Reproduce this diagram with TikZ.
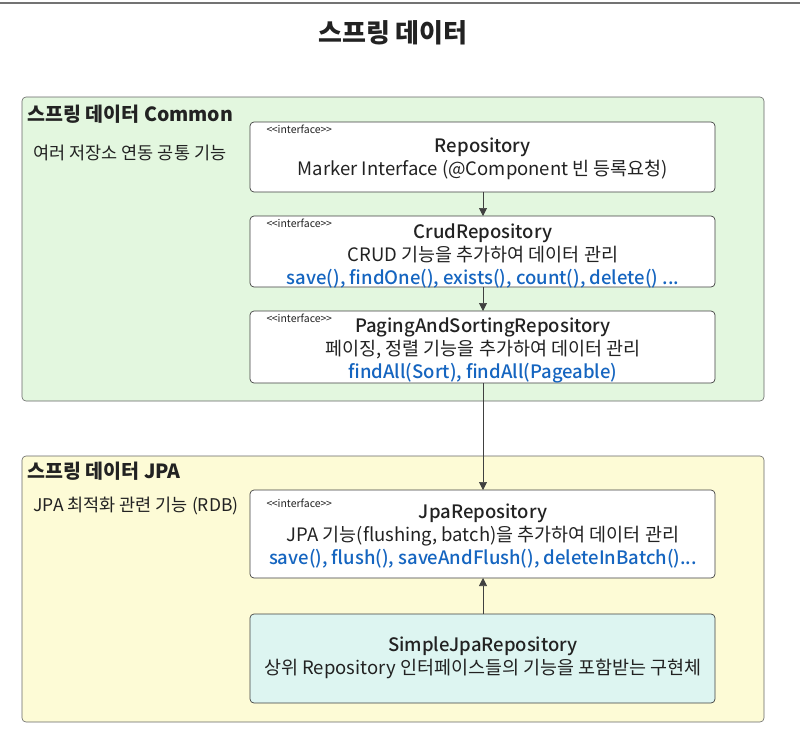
\documentclass[tikz,border=0pt]{standalone}
\usepackage{fontspec}
\setmainfont{Noto Sans CJK KR}
\newfontfamily\medfont{Noto Sans CJK KR Medium}
\usetikzlibrary{arrows.meta}
\definecolor{grpA}{HTML}{E3F7DF}
\definecolor{grpB}{HTML}{FDFBD6}
\definecolor{impl}{HTML}{DDF5F1}
\definecolor{meth}{HTML}{1565C0}
\definecolor{txt}{HTML}{222222}
\newcommand{\stereotxt}{<\kern-0.5pt<interface>\kern-0.5pt>}
\tikzset{
  grp/.style={draw=black!60, rounded corners=4pt, line width=0.6pt},
  cls/.style={draw=black!75, rounded corners=4pt, fill=white, line width=0.7pt},
  conn/.style={draw=black!75, line width=0.7pt, -{Triangle[length=8pt,width=8pt]}},
  stereo/.style={font=\fontsize{10.5}{12}\selectfont, anchor=west, text=txt},
  body/.style={font=\fontsize{18.5}{23}\selectfont, align=center, text=txt}
}
\begin{document}
\begin{tikzpicture}[x=1pt,y=-1pt]
\useasboundingbox (0,0) rectangle (800,742);
\draw[black!55, line width=2pt] (0,3) -- (800,3);
\node[font=\bfseries\fontsize{26}{30}\selectfont, text=txt] (title) at (393,33) {스프링 데이터};
% groups
\draw[grp, fill=grpA] (22,97) rectangle (764,401);
\node[anchor=west, font=\bfseries\fontsize{19.5}{22}\selectfont, text=txt] (gA) at (24,114) {스프링 데이터 Common};
\node[anchor=west, font=\fontsize{17.5}{20}\selectfont, text=txt] (gAs) at (30,153) {여러 저장소 연동 공통 기능};
\draw[grp, fill=grpB] (22,456) rectangle (764,722);
\node[anchor=west, font=\bfseries\fontsize{19.5}{22}\selectfont, text=txt] (gB) at (24,471) {스프링 데이터 JPA};
\node[anchor=west, font=\fontsize{17.5}{20}\selectfont, text=txt] (gBs) at (30,506) {JPA 최적화 관련 기능 (RDB)};
% classes
\draw[cls] (250,122) rectangle (715,192); \coordinate (rb) at (483,192);
\node[stereo] (s1) at (263,129) {\stereotxt};
\node[body] (r) at (483,159) {{\medfont Repository}\\Marker Interface (@Component 빈 등록요청)};
\draw[cls] (250,216) rectangle (715,287); \coordinate (ct) at (483,216); \coordinate (cb) at (483,287);
\node[stereo] (s2) at (263,223) {\stereotxt};
\node[body] (c) at (483,256) {{\medfont CrudRepository}\\CRUD 기능을 추가하여 데이터 관리\\{\medfont\color{meth}save(), findOne(), exists(), count(), delete() ...}};
\draw[cls] (250,311) rectangle (715,383); \coordinate (pt) at (483,311); \coordinate (pb) at (483,383);
\node[stereo] (s3) at (263,318) {\stereotxt};
\node[body] (p) at (483,350) {{\medfont PagingAndSortingRepository}\\페이징, 정렬 기능을 추가하여 데이터 관리\\{\medfont\color{meth}findAll(Sort), findAll(Pageable)}};
\draw[cls] (250,490) rectangle (715,578); \coordinate (jt) at (483,490); \coordinate (jb) at (483,578);
\node[stereo] (s4) at (263,503) {\stereotxt};
\node[body] (j) at (483,536) {{\medfont JpaRepository}\\JPA 기능(flushing, batch)을 추가하여 데이터 관리\\{\medfont\color{meth}save(), flush(), saveAndFlush(), deleteInBatch()...}};
\draw[cls, fill=impl] (250,614) rectangle (715,703); \coordinate (st) at (483,614);
\node[body] (si) at (483,658) {{\medfont SimpleJpaRepository}\\상위 Repository 인터페이스들의 기능을 포함받는 구현체};
% connectors
\draw[conn] (rb) -- (ct);
\draw[conn] (cb) -- (pt);
\draw[conn] (pb) -- (jt);
\draw[conn] (st) -- (jb);
\end{tikzpicture}
\end{document}
